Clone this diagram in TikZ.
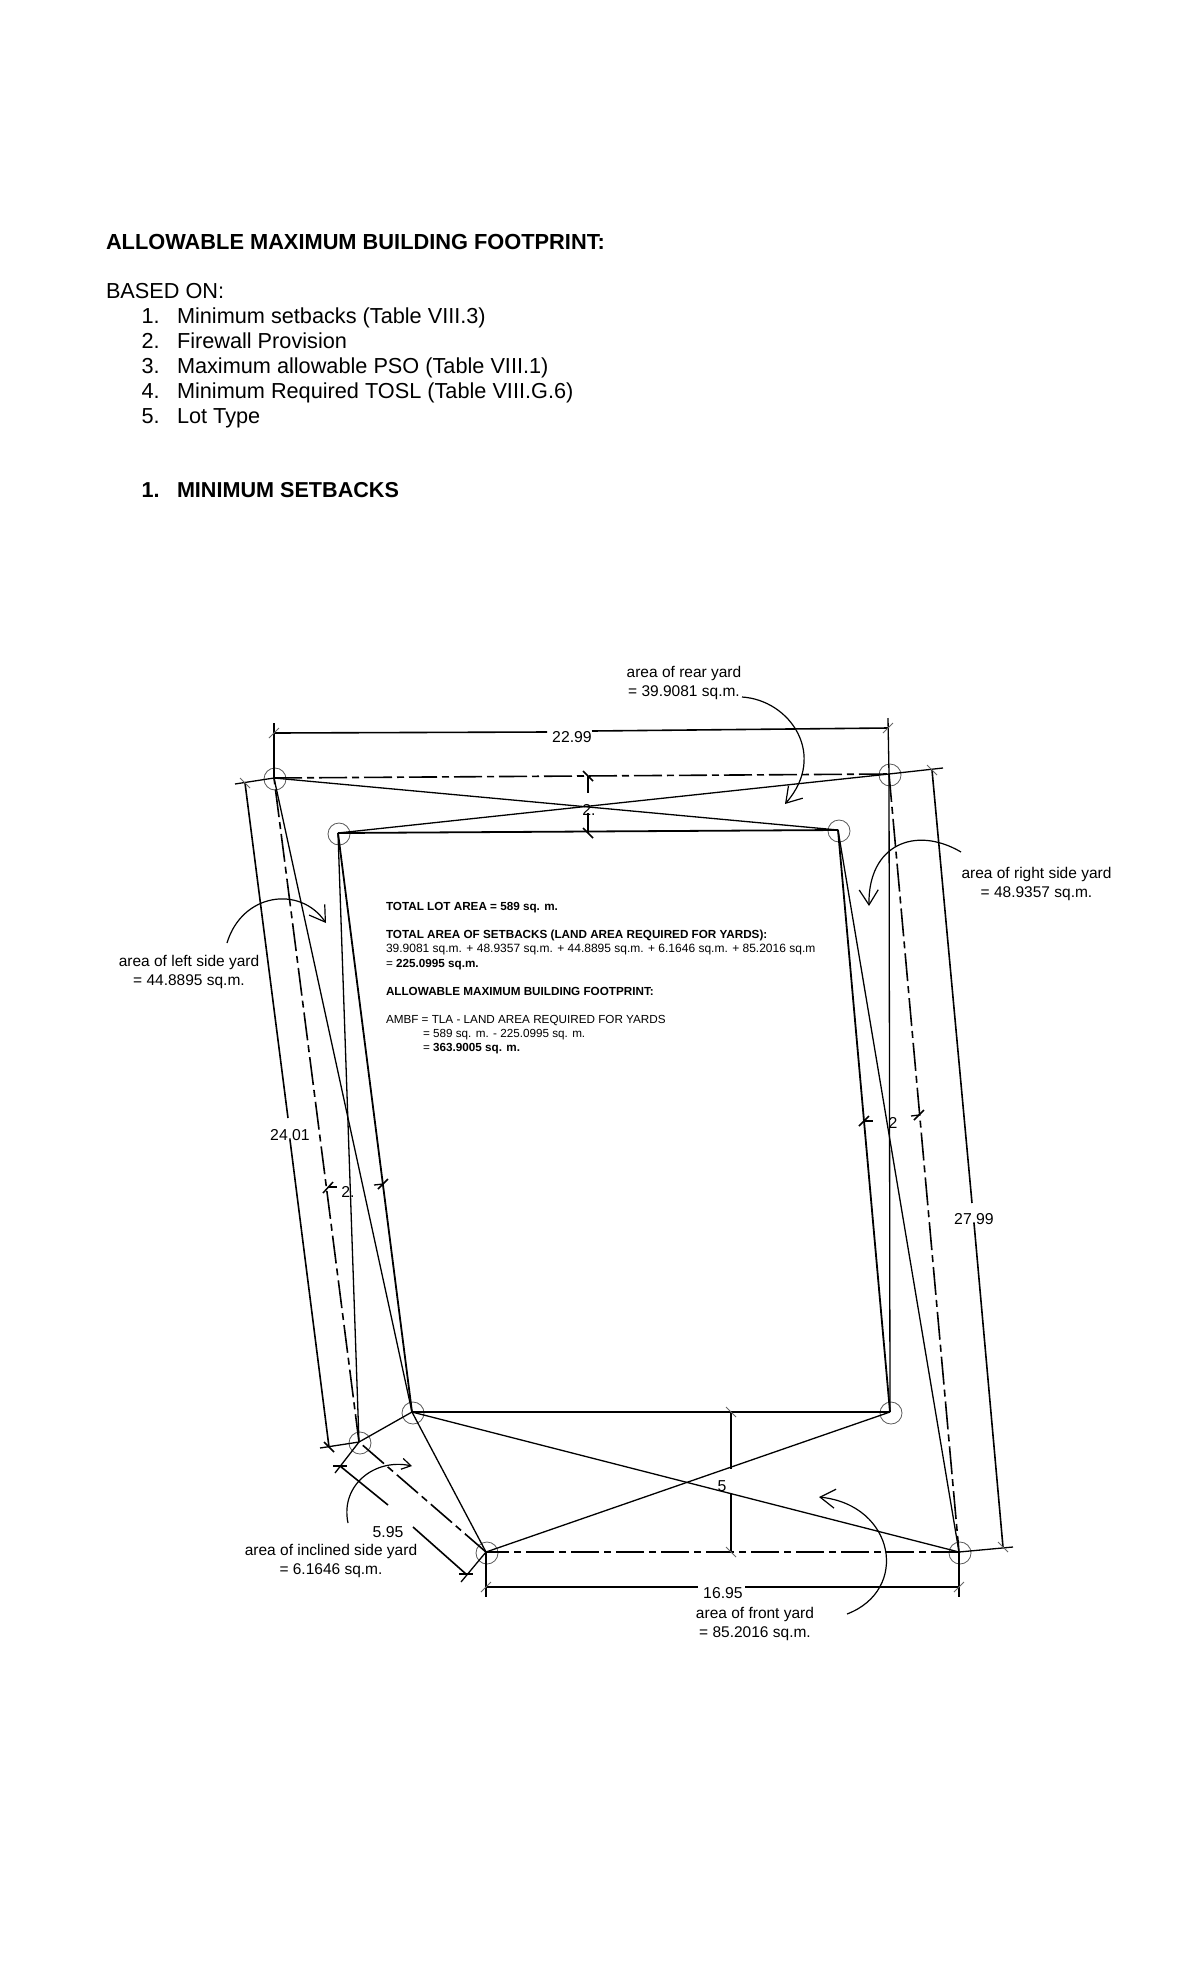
\documentclass[tikz,border=0pt]{standalone}
\usepackage{fontspec}
\setmainfont{Liberation Sans}
\usetikzlibrary{arrows.meta}
\tikzset{
  txt/.style={inner sep=0pt,outer sep=0pt,anchor=base west},
  head/.style={txt,font=\fontsize{21.8}{25}\selectfont\bfseries},
  headb/.style={txt,font=\fontsize{21.6}{25}\selectfont\bfseries},
  body/.style={txt,font=\fontsize{21.7}{25}\selectfont},
  small/.style={txt,font=\fontsize{11.7}{14}\selectfont},
  smallw/.style={txt,font=\fontsize{12}{14}\selectfont},
  smallb/.style={txt,font=\fontsize{11.7}{14}\selectfont\bfseries},
  dimtext/.style={inner sep=0pt,outer sep=0pt,anchor=base,font=\fontsize{15.8}{18.5}\selectfont},
  lab/.style={dimtext,font=\fontsize{15.5}{18.5}\selectfont,align=center},
  solid line/.style={line width=1.3pt,black},
  thick line/.style={line width=1.8pt,black},
  lot/.style={line width=1.6pt,black,dash pattern=on 28pt off 5pt on 7pt off 5pt},
  dimline/.style={line width=1.6pt,black},
  ext/.style={line width=1.3pt,black},
  gtick/.style={line width=0.8pt,black!60},
  btick/.style={line width=1.5pt,black},
  pin/.style={circle,draw=black!65,line width=0.8pt,minimum size=22pt,inner sep=0pt},
  curved/.style={line width=1.2pt,black,-{Straight Barb[length=15pt,width=19pt,line width=1.2pt]}},
  curvedsmall/.style={line width=1.2pt,black,-{Straight Barb[length=9pt,width=11pt,line width=1.2pt]}},
}
\begin{document}
\begin{tikzpicture}[x=1pt,y=-1pt]
\useasboundingbox (0,0) rectangle (1200,1976);
\fill[white] (0,0) rectangle (1200,1976);

% vertices
\coordinate (oTL) at (274,778);
\coordinate (oTR) at (889,774);
\coordinate (iTL) at (338,833);
\coordinate (iTR) at (838,830);
\coordinate (iBL) at (412,1412);
\coordinate (iBR) at (890,1412);
\coordinate (oIn) at (359,1442);
\coordinate (oBL) at (486,1552);
\coordinate (oBR) at (959,1552);

% free ends of dimensions
\coordinate (tdL) at (274,733);
\coordinate (tdR) at (888,728);
\coordinate (tdLe) at (274,723);
\coordinate (tdRe) at (888,718);
\coordinate (tdG1) at (547,732);
\coordinate (tdG2) at (592,731);
\coordinate (ldT) at (245,783);
\coordinate (ldTe) at (235,784);
\coordinate (ldG1) at (288,1118);
\coordinate (ldG2) at (290,1140);
\coordinate (ldB) at (329,1447);
\coordinate (ldBe) at (320,1448);
\coordinate (rdT) at (932,770);
\coordinate (rdTe) at (943,768);
\coordinate (rdG1) at (972,1203);
\coordinate (rdG2) at (974,1223);
\coordinate (rdB) at (1003,1547);
\coordinate (rdBe) at (1013,1547);
\coordinate (bdL) at (486,1587);
\coordinate (bdR) at (959,1587);
\coordinate (bdLe) at (486,1597);
\coordinate (bdRe) at (959,1597);
\coordinate (bdG1) at (698,1587);
\coordinate (bdG2) at (745,1587);
\coordinate (fT) at (731,1412);
\coordinate (fB) at (731,1552);
\coordinate (fG1) at (731,1469);
\coordinate (fG2) at (731,1493);
\coordinate (rT) at (588,776);
\coordinate (rB) at (588,833);
\coordinate (rG1) at (588,793);
\coordinate (rG2) at (588,813);
\coordinate (nA) at (340,1466);
\coordinate (nB) at (466,1574);
\coordinate (nG1) at (388,1505);
\coordinate (nG2) at (413,1527);
\coordinate (nAe) at (335,1473);
\coordinate (nBe) at (461,1582);
\coordinate (lA) at (328,1187);
\coordinate (lB) at (383,1184);
\coordinate (lA2) at (337,1187);
\coordinate (lB2) at (374,1185);
\coordinate (sA) at (864,1121);
\coordinate (sB) at (919,1115);
\coordinate (sA2) at (873,1121);
\coordinate (sB2) at (911,1116);

% pins
\foreach \p/\c in {pTL/oTL,pTR/oTR,pITL/iTL,pITR/iTR,pIBL/iBL,pIBR/iBR,pIn/oIn,pBL/oBL,pBR/oBR}
  \node[pin] (\p) at ([shift={(1,1)}]\c) {};

% lot line
\draw[lot] (oTL) -- (oTR);
\draw[lot] (oTR) -- (oBR);
\draw[lot] (oBR) -- (oBL);
\draw[lot] (oBL) -- (oIn);
\draw[lot] (oIn) -- (oTL);

% buildable footprint
\draw[thick line] (iTL) -- (iTR);
\draw[thick line] (iBL) -- (iBR);
\draw[thick line] (iTR) -- (iBR);
\draw[thick line] (iBL) -- (iTL);

% diagonals
\draw[solid line] (oTL) -- (iTR);
\draw[solid line] (oTR) -- (iTL);
\draw[solid line] (oTR) -- (iBR);
\draw[solid line] (iTR) -- (oBR);
\draw[solid line] (oTL) -- (iBL);
\draw[solid line] (iTL) -- (oIn);
\draw[solid line] (oIn) -- (iBL);
\draw[solid line] (iBL) -- (oBL);
\draw[solid line] (iBL) -- (oBR);
\draw[solid line] (iBR) -- (oBL);

% top dimension
\draw[ext] (tdLe) -- (oTL);
\draw[ext] (tdRe) -- (oTR);
\draw[dimline] (tdL) -- (tdG1);
\draw[dimline] (tdG2) -- (tdR);
\draw[gtick] ([shift={(-5,5)}]tdL) -- ([shift={(5,-5)}]tdL);
\draw[gtick] ([shift={(-5,5)}]tdR) -- ([shift={(5,-5)}]tdR);
\node[dimtext] (t2299) at (572,742) {22.99};

% left dimension
\draw[ext] (ldTe) -- (oTL);
\draw[ext] (ldBe) -- (oIn);
\draw[dimline] (ldT) -- (ldG1);
\draw[dimline] (ldG2) -- (ldB);
\draw[gtick] ([shift={(-5,-5)}]ldT) -- ([shift={(5,5)}]ldT);
\draw[btick] ([shift={(-5,-5)}]ldB) -- ([shift={(5,5)}]ldB);
\node[dimtext] (t2401) at (290,1140) {24.01};

% right dimension
\draw[ext] (oTR) -- (rdTe);
\draw[ext] (oBR) -- (rdBe);
\draw[dimline] (rdT) -- (rdG1);
\draw[dimline] (rdG2) -- (rdB);
\draw[gtick] ([shift={(-5,-5)}]rdT) -- ([shift={(5,5)}]rdT);
\draw[gtick] ([shift={(-5,-5)}]rdB) -- ([shift={(5,5)}]rdB);
\node[dimtext] (t2799) at (974,1224) {27.99};

% bottom dimension
\draw[ext] (oBL) -- (bdLe);
\draw[ext] (oBR) -- (bdRe);
\draw[dimline] (bdL) -- (bdG1);
\draw[dimline] (bdG2) -- (bdR);
\draw[gtick] ([shift={(-5,5)}]bdL) -- ([shift={(5,-5)}]bdL);
\draw[gtick] ([shift={(-5,5)}]bdR) -- ([shift={(5,-5)}]bdR);
\node[dimtext] (t1695) at (723,1598) {16.95};

% front setback
\draw[dimline] (fT) -- (fG1);
\draw[dimline] (fG2) -- (fB);
\draw[gtick] ([shift={(-5,-5)}]fT) -- ([shift={(5,5)}]fT);
\draw[gtick] ([shift={(-5,-5)}]fB) -- ([shift={(5,5)}]fB);
\node[dimtext] (t5) at (722,1491) {5};

% rear setback
\draw[ext] (rT) -- (rG1);
\draw[ext] (rG2) -- (rB);
\draw[btick] ([shift={(-5,-5)}]rT) -- ([shift={(5,5)}]rT);
\draw[btick] ([shift={(-5,-5)}]rB) -- ([shift={(5,5)}]rB);
\node[dimtext] (t2r) at (589,815) {2.};

% inclined dimension
\draw[dimline] (nA) -- (nG1);
\draw[dimline] (nG2) -- (nB);
\draw[ext] (oIn) -- (nAe);
\draw[ext] (oBL) -- (nBe);
\draw[btick] ([shift={(-7,0)}]nA) -- ([shift={(7,0)}]nA);
\draw[btick] ([shift={(-7,0)}]nB) -- ([shift={(7,0)}]nB);
\node[dimtext] (t595) at (388,1537) {5.95};

% left setback ticks
\draw[ext] (lA) -- (lA2);
\draw[ext] (lB2) -- (lB);
\draw[btick] ([shift={(-5,6)}]lA) -- ([shift={(5,-5)}]lA);
\draw[btick] ([shift={(-5,5)}]lB) -- ([shift={(5,-5)}]lB);
\node[dimtext] (t2l) at (348,1197) {2.};

% right setback ticks
\draw[ext] (sA) -- (sA2);
\draw[ext] (sB2) -- (sB);
\draw[btick] ([shift={(-5,5)}]sA) -- ([shift={(5,-5)}]sA);
\draw[btick] ([shift={(-5,5)}]sB) -- ([shift={(5,-5)}]sB);
\node[dimtext] (t2s) at (893,1128) {2};

% area labels (anchor on the baseline of the second line)
\node[lab] (lRear) at (684,696) {area of rear yard\\= 39.9081 sq.m.};
\node[lab] (lRight) at (1036.5,897) {area of right side yard\\= 48.9357 sq.m.};
\node[lab] (lLeft) at (189,985) {area of left side yard\\= 44.8895 sq.m.};
\node[lab] (lIncl) at (331,1574) {area of inclined side yard\\= 6.1646 sq.m.};
\node[lab] (lFront) at (755,1637) {area of front yard\\= 85.2016 sq.m.};

% curved pointers
\coordinate (cR1) at (742,697); \coordinate (cR2) at (785,804);
\coordinate (cS1) at (961,852); \coordinate (cS2) at (869,906);
\coordinate (cL1) at (227,943); \coordinate (cL2) at (326,923);
\coordinate (cI1) at (348,1523); \coordinate (cI2) at (412,1466);
\coordinate (cF1) at (847,1614); \coordinate (cF2) at (819,1497);
\draw[curved] (cR1) .. controls (790,700) and (828,755) .. (cR2);
\draw[curved] (cS1) .. controls (915,825) and (868,845) .. (cS2);
\draw[curved] (cL1) .. controls (242,893) and (300,885) .. (cL2);
\draw[curvedsmall] (cI1) .. controls (340,1485) and (375,1458) .. (cI2);
\draw[curved] (cF1) .. controls (910,1590) and (895,1505) .. (cF2);

% page text
\node[head] (h1) at (106,249) {ALLOWABLE MAXIMUM BUILDING FOOTPRINT:};
\node[body] (b0) at (106,298) {BASED ON:};
\node[body] (n1) at (141.5,323) {1.};
\node[body] (i1) at (177,323) {Minimum setbacks (Table VIII.3)};
\node[body] (n2) at (141.5,348) {2.};
\node[body] (i2) at (177,348) {Firewall Provision};
\node[body] (n3) at (141.5,373) {3.};
\node[body] (i3) at (177,373) {Maximum allowable PSO (Table VIII.1)};
\node[body] (n4) at (141.5,398) {4.};
\node[body] (i4) at (177,398) {Minimum Required TOSL (Table VIII.G.6)};
\node[body] (n5) at (141.5,423) {5.};
\node[body] (i5) at (177,423) {Lot Type};
\node[headb] (n6) at (141.5,497) {1.};
\node[headb] (i6) at (177,497) {MINIMUM SETBACKS};

% notes inside footprint
\node[smallb] (a1) at (386,910) {TOTAL LOT AREA = 589 sq. m.};
\node[smallb] (a2) at (386,938) {TOTAL AREA OF SETBACKS (LAND AREA REQUIRED FOR YARDS):};
\node[smallw] (a3) at (386,952) {39.9081 sq.m. + 48.9357 sq.m. + 44.8895 sq.m. + 6.1646 sq.m. + 85.2016 sq.m};
\node[small] (a4) at (386,967) {= \textbf{225.0995 sq.m.}};
\node[smallb] (a5) at (386,995) {ALLOWABLE MAXIMUM BUILDING FOOTPRINT:};
\node[small] (a6) at (386,1023) {AMBF = TLA - LAND AREA REQUIRED FOR YARDS};
\node[small] (a7) at (423,1037) {= 589 sq. m. - 225.0995 sq. m.};
\node[small] (a8) at (423,1051) {= \textbf{363.9005 sq. m.}};
\end{tikzpicture}
\end{document}
